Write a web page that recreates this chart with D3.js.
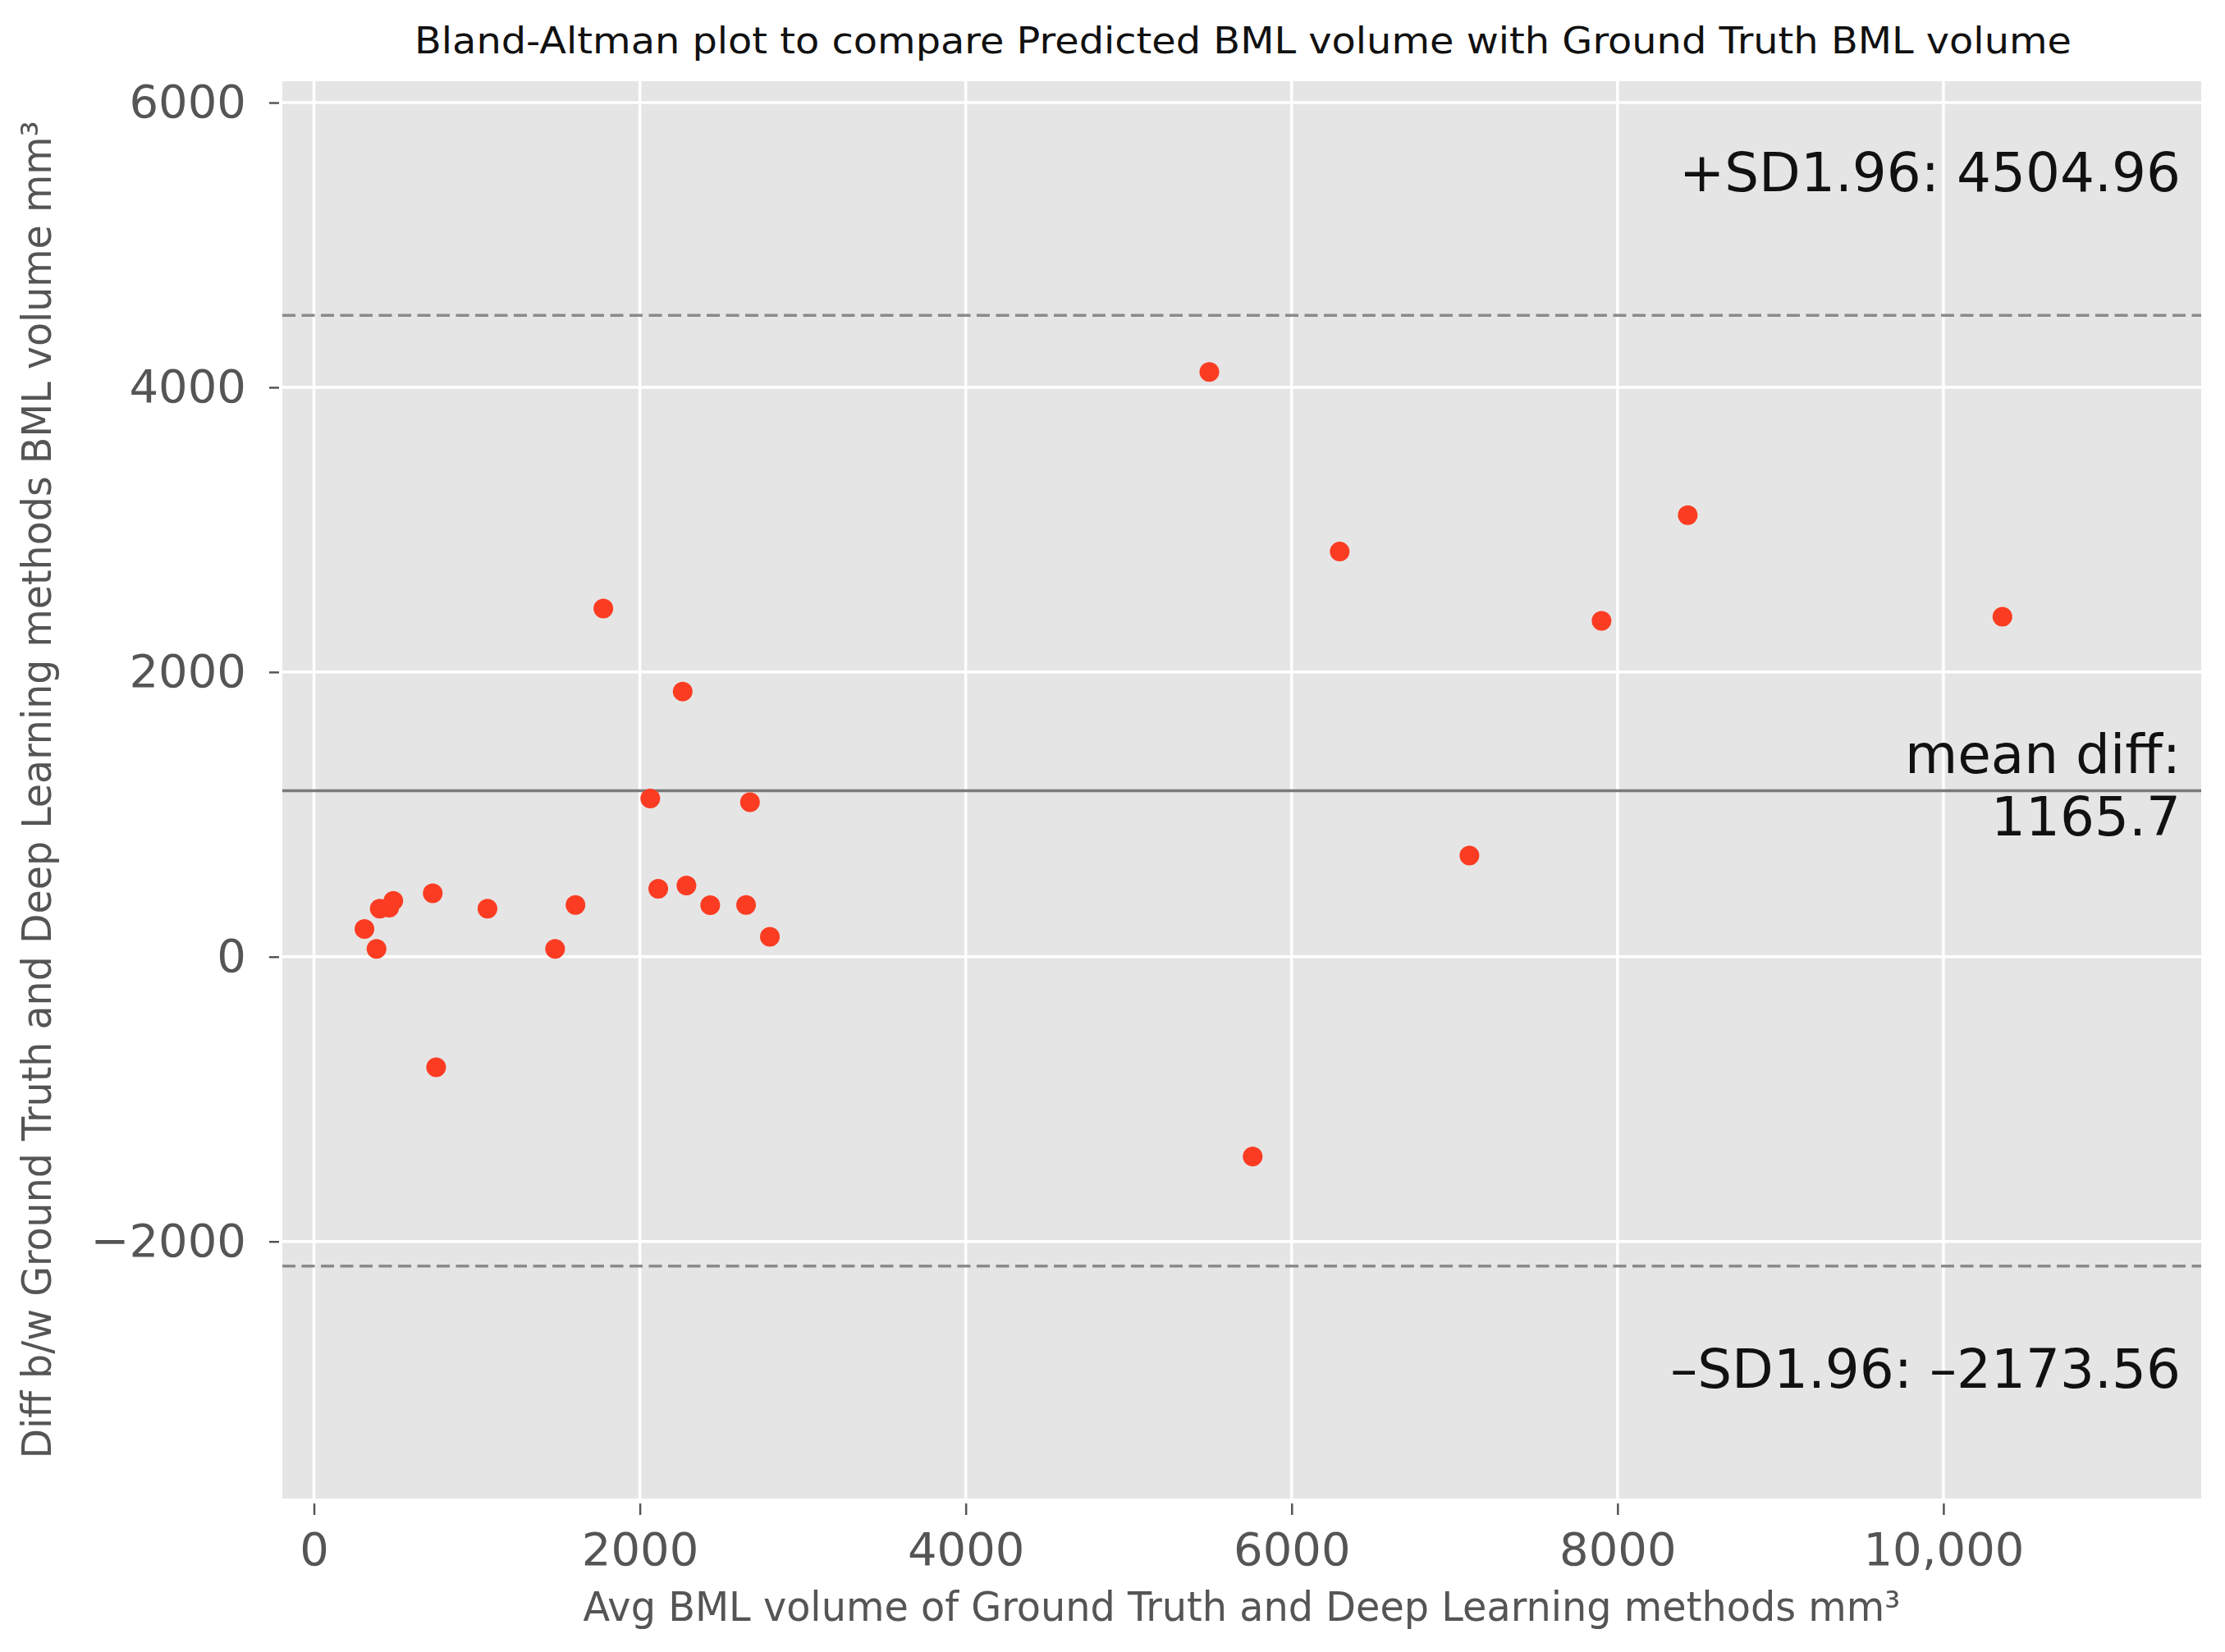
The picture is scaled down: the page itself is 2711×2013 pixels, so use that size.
<!DOCTYPE html>
<html>
<head>
<meta charset="utf-8">
<script src="https://cdn.jsdelivr.net/npm/d3@7"></script>
<style>
  html, body { margin: 0; padding: 0; background: #ffffff; }
  svg { display: block; }
</style>
</head>
<body>
<svg id="chart" width="2711" height="2013"></svg>
<script>
// ---- data ----
const avgVolume = [310, 384, 404, 462, 487, 729, 750, 1065, 1480, 1605, 1776, 2064, 2113, 2263, 2286, 2432, 2652, 2676, 2798, 5495, 5761, 6295, 7091, 7902, 8431, 10362];
const diffVolume = [195, 55, 337, 345, 393, 446, -776, 337, 55, 364, 2446, 1111, 477, 1863, 501, 362, 364, 1085, 140, 4108, -1404, 2846, 711, 2360, 3102, 2389];
const meanDiff = 1165.7;
const upperLimit = 4504.96;
const lowerLimit = -2173.56;
const xTicks = [0, 2000, 4000, 6000, 8000, 10000];
const yTicks = [-2000, 0, 2000, 4000, 6000];
const xDomain = [-194, 11582];
const yDomain = [-3806, 6150];

const titleText = "Bland-Altman plot to compare Predicted BML volume with Ground Truth BML volume";
const xLabelText = "Avg BML volume of Ground Truth and Deep Learning methods mm³";
const yLabelText = "Diff b/w Ground Truth and Deep Learning methods BML volume mm³";
const upperText = "+SD1.96: 4504.96";
const meanText1 = "mean diff:";
const meanText2 = "1165.7";
const lowerText = "–SD1.96: –2173.56";

// ---- layout ----
const svg = d3.select("#chart");
const plot = { left: 344, right: 2682, top: 99, bottom: 1826 };
const font = "'DejaVu Sans', sans-serif";
const grey = "#555555";

const x = d3.scaleLinear().domain(xDomain).range([plot.left, plot.right]);
const y = d3.scaleLinear().domain(yDomain).range([plot.bottom, plot.top]);

// background
svg.append("rect")
  .attr("x", plot.left).attr("y", plot.top)
  .attr("width", plot.right - plot.left).attr("height", plot.bottom - plot.top)
  .attr("fill", "#e5e5e5");

// grid
const grid = svg.append("g");
grid.selectAll(".gx").data(xTicks).enter().append("line")
  .attr("x1", d => x(d)).attr("x2", d => x(d))
  .attr("y1", plot.top).attr("y2", plot.bottom)
  .attr("stroke", "#ffffff").attr("stroke-width", 3.5);
grid.selectAll(".gy").data(yTicks).enter().append("line")
  .attr("x1", plot.left).attr("x2", plot.right)
  .attr("y1", d => y(d)).attr("y2", d => y(d))
  .attr("stroke", "#ffffff").attr("stroke-width", 3.5);

// limits of agreement & mean
svg.append("line")
  .attr("x1", plot.left).attr("x2", plot.right)
  .attr("y1", y(meanDiff)).attr("y2", y(meanDiff))
  .attr("stroke", "#7a7a7a").attr("stroke-width", 3.5);
[upperLimit, lowerLimit].forEach(v => {
  svg.append("line")
    .attr("x1", plot.left).attr("x2", plot.right)
    .attr("y1", y(v)).attr("y2", y(v))
    .attr("stroke", "#8a8a8a").attr("stroke-width", 3.5)
    .attr("stroke-dasharray", "16,7.5");
});

// points
svg.append("g").selectAll("circle")
  .data(avgVolume.map((v, i) => ({ x: v, y: diffVolume[i] })))
  .enter().append("circle")
  .attr("cx", d => x(d.x)).attr("cy", d => y(d.y))
  .attr("r", 12)
  .attr("fill", "#fb3c22");

// axes
const fmtX = d => d >= 10000 ? d3.format(",")(d) : String(d);
const fmtY = d => d < 0 ? "−" + Math.abs(d) : String(d);

const xAxis = svg.append("g")
  .attr("transform", `translate(0,${plot.bottom + 6})`)
  .call(d3.axisBottom(x).tickValues(xTicks).tickFormat(fmtX).tickSize(14).tickPadding(21));
const yAxis = svg.append("g")
  .attr("transform", `translate(${plot.left - 4},0)`)
  .call(d3.axisLeft(y).tickValues(yTicks).tickFormat(fmtY).tickSize(12).tickPadding(28));

[xAxis, yAxis].forEach(a => {
  a.select(".domain").remove();
  a.selectAll(".tick line").attr("stroke", grey).attr("stroke-width", 2.5);
  a.selectAll(".tick text")
    .attr("fill", grey)
    .style("font-family", font)
    .style("font-size", "56px");
});

// title
svg.append("text")
  .attr("x", 505).attr("y", 65)
  .attr("textLength", 2019).attr("lengthAdjust", "spacingAndGlyphs")
  .style("font-family", font).style("font-size", "45px")
  .attr("fill", "#111111")
  .text(titleText);

// x label
svg.append("text")
  .attr("x", (plot.left + plot.right) / 2).attr("y", 1975)
  .attr("text-anchor", "middle")
  .attr("textLength", 1605).attr("lengthAdjust", "spacingAndGlyphs")
  .style("font-family", font).style("font-size", "50px")
  .attr("fill", grey)
  .text(xLabelText);

// y label
svg.append("text")
  .attr("transform", `translate(62,${(plot.top + plot.bottom) / 2}) rotate(-90)`)
  .attr("text-anchor", "middle")
  .attr("textLength", 1630).attr("lengthAdjust", "spacingAndGlyphs")
  .style("font-family", font).style("font-size", "50px")
  .attr("fill", grey)
  .text(yLabelText);

// annotations
const annX = 2657;
function ann(t, yy) {
  svg.append("text")
    .attr("x", annX).attr("y", yy)
    .attr("text-anchor", "end")
    .style("font-family", font).style("font-size", "66px")
    .attr("fill", "#111111")
    .text(t);
}
ann(upperText, 233);
ann(meanText1, 942);
ann(meanText2, 1018);
ann(lowerText, 1691);
</script>
</body>
</html>
